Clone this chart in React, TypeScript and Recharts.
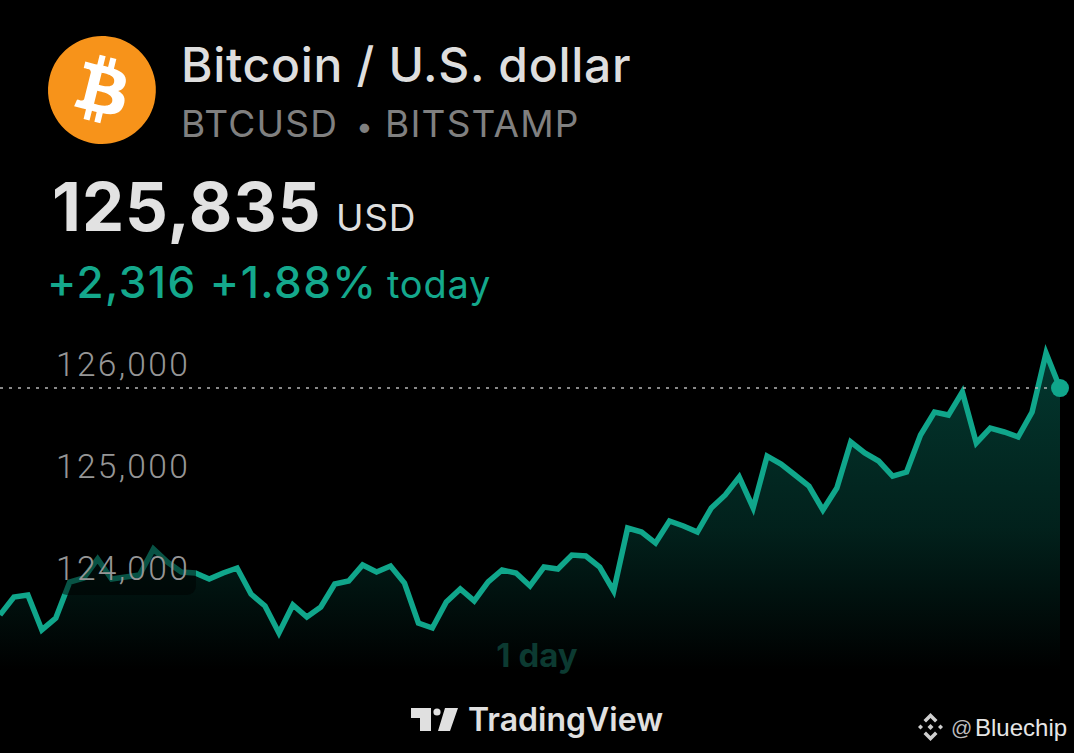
import { Area, ComposedChart, Line, ReferenceDot, ReferenceLine, XAxis, YAxis } from "recharts";

const prices = [
  123610, 123786, 123806, 123463, 123580, 123933, 123972, 124159, 123962, 123982,
  124002, 124257, 124129, 124031, 124021, 123962, 124021, 124070, 123815, 123698,
  123433, 123708, 123590, 123688, 123913, 123943, 124100, 124031, 124090, 123923,
  123531, 123482, 123737, 123864, 123747, 123933, 124051, 124021, 123894, 124080,
  124060, 124198, 124188, 124080, 123845, 124462, 124423, 124315, 124531, 124482,
  124423, 124659, 124786, 124962, 124659, 125168, 125090, 124982, 124874, 124639,
  124855, 125306, 125198, 125119, 124972, 125011, 125374, 125600, 125570, 125796,
  125296, 125443, 125404, 125355, 125600, 126178, 125835,
];
const priceTicks = [124000, 125000, 126000];
const priceDomain = [123070, 126306];
const lastPrice = 125835;

const chartData = prices.map((price, i) => ({ i, price }));
const chartMargin = { top: 340, right: 14, bottom: 83, left: 0 };

const GREEN = "#10a68b";
const BTC_PATH =
  "M23.638 14.904c-1.602 6.43-8.113 10.34-14.542 8.736C2.67 22.05-1.244 15.525.362 9.105 1.962 2.67 8.475-1.243 14.9.358c6.43 1.605 10.342 8.115 8.738 14.548v-.002zm-6.35-4.613c.24-1.59-.974-2.45-2.64-3.03l.54-2.153-1.315-.33-.525 2.107c-.345-.087-.705-.167-1.064-.25l.526-2.127-1.32-.33-.54 2.165c-.285-.067-.565-.132-.84-.2l-1.815-.45-.35 1.407s.975.225.955.236c.535.136.63.486.615.766l-1.477 5.92c-.075.166-.24.406-.614.314.015.02-.96-.24-.96-.24l-.66 1.51 1.71.426.93.242-.54 2.19 1.32.327.54-2.17c.36.1.705.19 1.05.273l-.51 2.154 1.32.33.545-2.19c2.24.427 3.93.257 4.64-1.774.57-1.637-.03-2.58-1.217-3.196.854-.193 1.5-.76 1.68-1.93h.01zm-3.01 4.22c-.404 1.64-3.157.75-4.05.53l.72-2.9c.896.23 3.757.67 3.33 2.37zm.41-4.24c-.37 1.49-2.662.735-3.405.55l.654-2.64c.744.18 3.137.524 2.75 2.084v.006z";

const PriceTick = ({ y, payload }: any) => (
  <text x={56} y={y + 5} fill="#969696" fontSize={33.5} fontFamily="Roboto" fontWeight={300} letterSpacing={2.3}>
    {payload.value.toLocaleString("en-US")}
  </text>
);

const Header = () => (
  <svg width={1074} height={753} style={{ position: "absolute", left: 0, top: 0 }}>
    <circle cx={102} cy={90} r={38} fill="#fff" />
    <g transform="translate(48 36) scale(4.5)">
      <path d={BTC_PATH} fill="#f7931a" />
    </g>
    <g fontFamily="Inter">
      <text x={181} y={82} fill="#dedede" fontSize={48} fontWeight={500} letterSpacing={0.7}>Bitcoin / U.S. dollar</text>
      <text x={181} y={137} fill="#808080" fontSize={37} letterSpacing={1.2}>BTCUSD</text>
      <text x={356} y={137} fill="#808080" fontSize={30}>•</text>
      <text x={385} y={137} fill="#808080" fontSize={37} letterSpacing={1.2}>BITSTAMP</text>
      <text x={52} y={231} fill="#e2e2e2" fontSize={67} fontWeight={700} letterSpacing={1}>125,835</text>
      <text x={336} y={231} fill="#dedede" fontSize={37} letterSpacing={0.8}>USD</text>
      <text x={47} y={298} fill="#14a88c" fontSize={44} fontWeight={500} letterSpacing={1.45}>+2,316 +1.88%</text>
      <text x={387} y={298} fill="#14a88c" fontSize={38} letterSpacing={0.8}>today</text>
      <text x={537} y={667} fill="#0c3a31" fontSize={33} fontWeight={700} textAnchor="middle">1 day</text>
      <path d="M411 708h20v23h-11v-13h-9z M445 708h13l-8 23h-12z" fill="#e0e0e0" />
      <circle cx={437} cy={712} r={3.6} fill="#e0e0e0" />
      <text x={468} y={731} fill="#e0e0e0" fontSize={32} fontWeight={600}>TradingView</text>
    </g>
    <g fill="#cfcfcf" transform="translate(930.5 727)">
      <path d="M0-14 7-7 4.5-4.5 0-9-4.5-4.5-7-7z" />
      <path d="M0 14 7 7 4.5 4.5 0 9-4.5 4.5-7 7z" />
      <path d="M0-3 3 0 0 3-3 0z" />
      <path d="M-10-2.5-7.5 0-10 2.5-12.5 0z" />
      <path d="M10-2.5 12.5 0 10 2.5 7.5 0z" />
    </g>
    <text x={951} y={735} fill="#bdbdbd" fontSize={21} fontFamily="Liberation Sans">@</text>
    <text x={975} y={736} fill="#e6e6e6" fontSize={24} fontFamily="Liberation Sans">Bluechip</text>
  </svg>
);

const App = () => (
  <div style={{ position: "absolute", left: 0, top: 0, width: 1074, height: 753, background: "#000", overflow: "hidden" }}>
    <ComposedChart width={1074} height={753} data={chartData} margin={chartMargin}>
      <defs>
        <linearGradient id="fadeGreen" x1="0" y1="0" x2="0" y2="1">
          <stop offset="0%" stopColor="#089981" stopOpacity={0.6} />
          <stop offset="55%" stopColor="#089981" stopOpacity={0.36} />
          <stop offset="100%" stopColor="#089981" stopOpacity={0} />
        </linearGradient>
      </defs>
      <XAxis dataKey="i" hide />
      <YAxis hide domain={priceDomain} allowDataOverflow />
      <Area dataKey="price" stroke="none" fill="url(#fadeGreen)" isAnimationActive={false} />
      <Line dataKey="price" stroke={GREEN} strokeWidth={5.5} dot={false} isAnimationActive={false} />
      <ReferenceLine y={lastPrice} stroke="#b5b5b5" strokeWidth={1.5} strokeDasharray="3 6" />
      <ReferenceDot x={76} y={lastPrice} r={9} fill={GREEN} stroke="none" />
    </ComposedChart>
    {/* dims the line behind the 124,000 label, labels sit above it */}
    <div style={{ position: "absolute", left: 58, top: 540, width: 138, height: 55, borderRadius: 9, background: "rgba(0,0,0,0.5)" }} />
    <div style={{ position: "absolute", left: 0, top: 0 }}>
      <ComposedChart width={1074} height={753} data={chartData} margin={chartMargin}>
        <XAxis dataKey="i" hide />
        <YAxis
          orientation="left"
          mirror
          domain={priceDomain}
          ticks={priceTicks}
          tick={PriceTick}
          axisLine={false}
          tickLine={false}
          allowDataOverflow
        />
      </ComposedChart>
    </div>
    <Header />
  </div>
);

export default App;
